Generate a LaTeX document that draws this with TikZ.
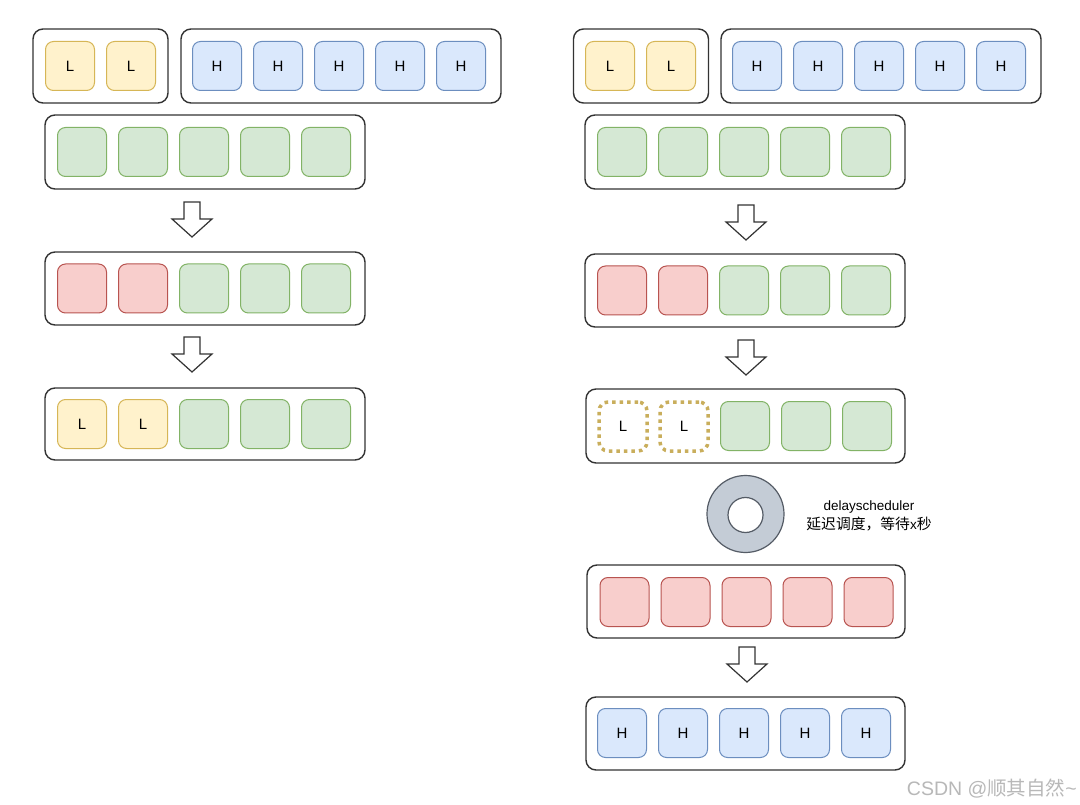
\documentclass[tikz,border=0pt]{standalone}
\usepackage{fontspec}
\setmainfont{Liberation Sans}
\newfontfamily\cjk{Noto Sans CJK SC}
\definecolor{yfill}{HTML}{FFF2CC}
\definecolor{ystroke}{HTML}{D6B656}
\definecolor{bfill}{HTML}{DAE8FC}
\definecolor{bstroke}{HTML}{6C8EBF}
\definecolor{gfill}{HTML}{D5E8D4}
\definecolor{gstroke}{HTML}{82B366}
\definecolor{rfill}{HTML}{F8CECC}
\definecolor{rstroke}{HTML}{B85450}
\definecolor{dotstroke}{HTML}{C9AE5C}
\definecolor{donutfill}{HTML}{C4CCD6}
\definecolor{donutstroke}{HTML}{555C66}
\definecolor{boxline}{HTML}{333333}
\newcommand\blockarrow[2]{%
  \draw[blk] (#1-8,#2) -- ++(16,0) -- ++(0,17) -- ++(12,0) -- (#1,#2+35) -- (#1-20,#2+17) -- ++(12,0) -- cycle;}
\begin{document}
\begin{tikzpicture}[x=1pt,y=-1pt,
  cont/.style={draw=boxline, line width=1.4pt, rounded corners=10pt, fill=white, inner sep=0pt},
  cell/.style={line width=1pt, rounded corners=8pt, minimum width=49pt, minimum height=49pt, inner sep=0pt, font=\fontsize{15}{15}\selectfont},
  yel/.style={cell, fill=yfill, draw=ystroke},
  blu/.style={cell, fill=bfill, draw=bstroke},
  grn/.style={cell, fill=gfill, draw=gstroke},
  red/.style={cell, fill=rfill, draw=rstroke},
  dotcell/.style={cell, fill=white, draw=dotstroke, line width=3.5pt, dash pattern=on 3.5pt off 4pt, rounded corners=9pt},
  blk/.style={draw=boxline, line width=1.2pt, fill=white, line join=miter}
]
\fill[white] (0,0) rectangle (1080,805);
\useasboundingbox (0,0) rectangle (1080,805);

% ---------- left column ----------
\node[cont, minimum width=135, minimum height=74] (LcL) at (100.5,66) {};
\node[cont, minimum width=320, minimum height=74] (LcH) at (341,66) {};
\node[cont, minimum width=320, minimum height=74] (Lr1) at (205,152) {};
\node[cont, minimum width=320, minimum height=73] (Lr2) at (205,288.5) {};
\node[cont, minimum width=320, minimum height=72] (Lr3) at (205,424) {};

\foreach \i/\x in {1/70,2/131} \node[yel] (LL\i) at (\x,66) {L};
\foreach \i in {1,...,5} \node[blu] (LH\i) at ({217+61*(\i-1)},66) {H};
\foreach \i in {1,...,5} \node[grn] (La\i) at ({82+61*(\i-1)},152) {};
\foreach \i in {1,2} \node[red] (Lb\i) at ({82+61*(\i-1)},288.5) {};
\foreach \i in {3,4,5} \node[grn] (Lb\i) at ({82+61*(\i-1)},288.5) {};
\foreach \i in {1,2} \node[yel] (Lc\i) at ({82+61*(\i-1)},424) {L};
\foreach \i in {3,4,5} \node[grn] (Lc\i) at ({82+61*(\i-1)},424) {};

\blockarrow{192}{202}
\blockarrow{192}{337}

% ---------- right column ----------
\node[cont, minimum width=135, minimum height=74] (RcL) at (641,66) {};
\node[cont, minimum width=320, minimum height=74] (RcH) at (881,66) {};
\node[cont, minimum width=320, minimum height=74] (Rr1) at (745,152) {};
\node[cont, minimum width=320, minimum height=73] (Rr2) at (745,290.5) {};
\node[cont, minimum width=319, minimum height=74] (Rr3) at (745.5,426) {};
\node[cont, minimum width=318, minimum height=73] (Rr4) at (746,601.5) {};
\node[cont, minimum width=319, minimum height=73] (Rr5) at (745.5,733.5) {};

\foreach \i/\x in {1/610,2/671} \node[yel] (RL\i) at (\x,66) {L};
\foreach \i in {1,...,5} \node[blu] (RH\i) at ({757+61*(\i-1)},66) {H};
\foreach \i in {1,...,5} \node[grn] (Ra\i) at ({622+61*(\i-1)},152) {};
\foreach \i in {1,2} \node[red] (Rb\i) at ({622+61*(\i-1)},290.5) {};
\foreach \i in {3,4,5} \node[grn] (Rb\i) at ({622+61*(\i-1)},290.5) {};
\foreach \i in {1,2} \node[dotcell, minimum width=48pt, minimum height=49pt] (Rc\i) at ({623+61*(\i-1)},426.5) {L};
\foreach \i in {3,4,5} \node[grn] (Rc\i) at ({623+61*(\i-1)},426) {};
\foreach \i in {1,...,5} \node[red] (Rd\i) at ({624.5+61*(\i-1)},602) {};
\foreach \i in {1,...,5} \node[blu] (Re\i) at ({622+61*(\i-1)},733) {H};

\blockarrow{746}{205}
\blockarrow{746}{340}
\blockarrow{747}{647}

% donut
\fill[donutfill, even odd rule] (745.5,514) circle[radius=38.5] (745.5,515) circle[radius=17.5];
\draw[donutstroke, line width=1.2pt] (745.5,514) circle[radius=38.5];
\draw[donutstroke, line width=1.2pt] (745.5,515) circle[radius=17.5];
\coordinate (donut) at (745.5,514);

\node[align=center, font=\fontsize{13.5}{19}\selectfont, inner sep=0pt] (dlabel) at (869,516)
  {delayscheduler\\{\cjk\fontsize{14.8}{19}\selectfont 延迟调度，等待}x{\cjk\fontsize{14.8}{19}\selectfont 秒}};

% watermark
\node[anchor=east, text=black!28, font=\fontsize{19.5}{19.5}\selectfont, inner sep=0pt] (wm) at (1077,789)
  {CSDN @{\cjk 顺其自然}\textasciitilde};
\end{tikzpicture}
\end{document}
